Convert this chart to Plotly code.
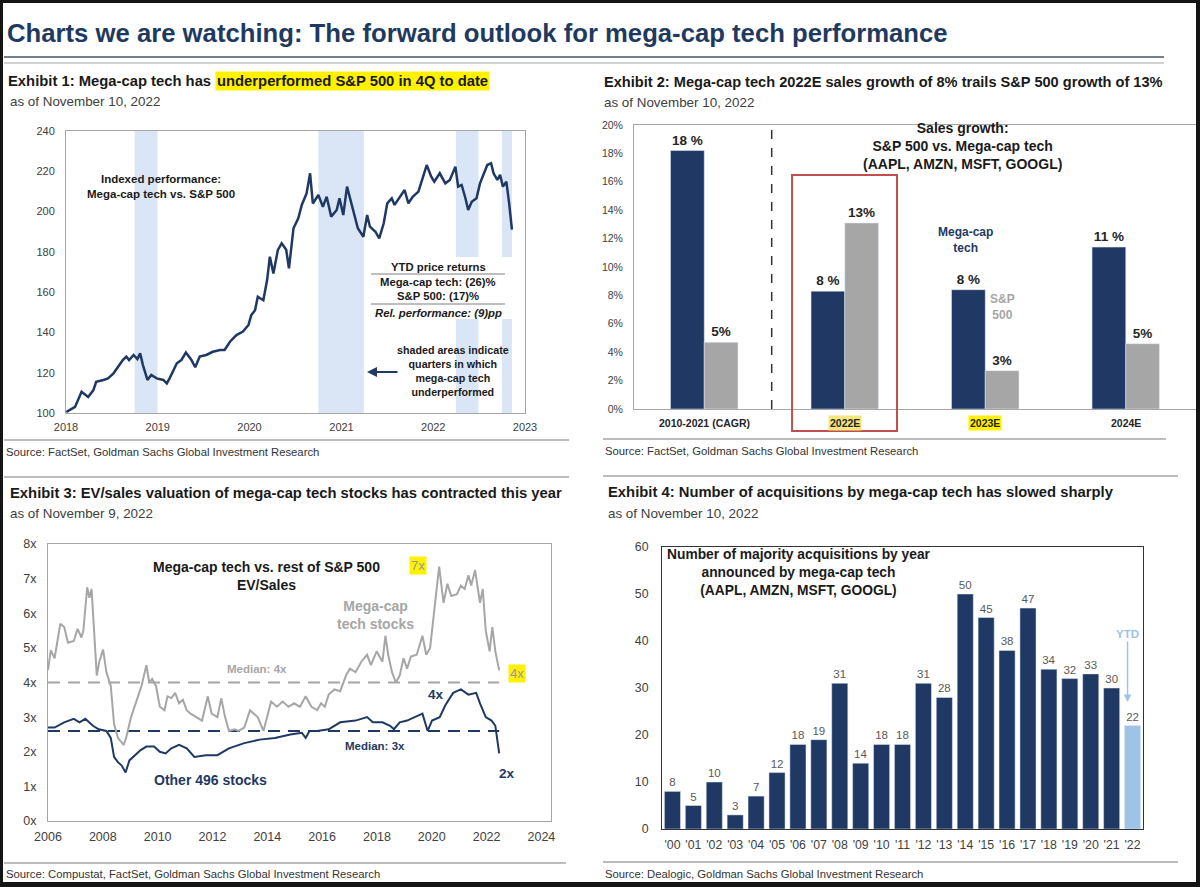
import plotly.graph_objects as go

# Exhibit 1: indexed performance, mega-cap tech vs. S&P 500
perf_dates = [
    '2018-01-02', '2018-02-06', '2018-03-04', '2018-03-30', '2018-04-20', '2018-05-01',
    '2018-05-30', '2018-06-17', '2018-07-09', '2018-07-27', '2018-08-15', '2018-08-29',
    '2018-09-09', '2018-09-27', '2018-10-12', '2018-10-23', '2018-11-03', '2018-11-21',
    '2018-12-06', '2018-12-28', '2019-01-23', '2019-02-06', '2019-02-17', '2019-03-18',
    '2019-04-05', '2019-04-23', '2019-05-15', '2019-05-30', '2019-06-17', '2019-07-13',
    '2019-08-08', '2019-09-06', '2019-09-24', '2019-10-16', '2019-11-10', '2019-12-06',
    '2019-12-28', '2020-01-08', '2020-01-23', '2020-02-03', '2020-02-25', '2020-03-11',
    '2020-03-22', '2020-04-05', '2020-04-23', '2020-05-08', '2020-05-26', '2020-06-06',
    '2020-06-24', '2020-07-13', '2020-07-27', '2020-08-15', '2020-08-29', '2020-09-09',
    '2020-10-01', '2020-10-19', '2020-11-03', '2020-11-21', '2020-12-13', '2020-12-24',
    '2021-01-08', '2021-01-23', '2021-02-10', '2021-02-24', '2021-03-07', '2021-03-29',
    '2021-04-13', '2021-04-24', '2021-05-16', '2021-05-31', '2021-06-18', '2021-07-02',
    '2021-07-20', '2021-07-31', '2021-08-22', '2021-09-09', '2021-09-24', '2021-10-12',
    '2021-11-03', '2021-11-21', '2021-12-06', '2021-12-24', '2022-01-05', '2022-01-27',
    '2022-02-18', '2022-03-08', '2022-03-30', '2022-04-10', '2022-04-24', '2022-05-09',
    '2022-05-20', '2022-06-03', '2022-06-22', '2022-07-06', '2022-07-17', '2022-08-04',
    '2022-08-19', '2022-08-29', '2022-09-13', '2022-09-24', '2022-10-05', '2022-10-19',
    '2022-10-30', '2022-11-04', '2022-11-10',
]
perf_values = [
    100.5, 103.0, 110.6, 108.0, 111.4, 115.5,
    116.4, 117.2, 119.7, 122.7, 126.3, 128.0,
    126.3, 128.8, 126.8, 129.6, 123.8, 116.4,
    118.9, 117.2, 116.4, 114.7, 117.2, 124.7,
    126.3, 130.0, 126.3, 122.7, 128.0, 128.8,
    130.4, 131.3, 131.3, 135.5, 138.7, 140.4,
    143.7, 148.6, 151.0, 157.7, 156.0, 166.0,
    177.6, 169.3, 181.0, 184.2, 181.0, 171.8,
    191.7, 196.7, 203.3, 209.0, 219.0, 204.0,
    208.2, 202.4, 207.4, 197.5, 200.8, 206.6,
    198.3, 212.4, 203.3, 196.7, 191.7, 187.5,
    198.3, 192.5, 190.0, 186.7, 194.2, 204.1,
    206.6, 203.3, 207.4, 210.7, 204.1, 207.4,
    209.9, 217.3, 223.1, 217.3, 214.8, 219.0,
    214.0, 215.7, 222.3, 212.4, 213.2, 206.6,
    200.8, 204.9, 206.6, 214.0, 217.3, 223.1,
    224.0, 219.0, 215.7, 218.2, 212.4, 214.8,
    204.1, 197.5, 191.0,
]
# quarters in which mega-cap tech underperformed
shade_start = ['2018-10-01', '2020-10-01', '2022-04-01', '2022-10-01']
shade_end = ['2018-12-31', '2021-03-31', '2022-06-30', '2022-11-10']

# Exhibit 2: sales growth
sales_categories = ['2010-2021 (CAGR)', '2022E', '2023E', '2024E']
megacap_growth = [18.2, 8.3, 8.4, 11.4]
sp500_growth = [4.7, 13.1, 2.7, 4.6]
megacap_labels = ['18 %', '8 %', '8 %', '11 %']
sp500_labels = ['5%', '13%', '3%', '5%']

# Exhibit 3: EV/Sales
mega_years = [
    2006.00, 2006.10, 2006.24, 2006.45, 2006.59, 2006.73, 2006.94, 2007.08, 2007.22, 2007.29,
    2007.43, 2007.51, 2007.59, 2007.68, 2007.78, 2007.87, 2008.01, 2008.13, 2008.29, 2008.41,
    2008.55, 2008.76, 2008.85, 2009.03, 2009.24, 2009.41, 2009.59, 2009.69, 2009.80, 2009.94,
    2010.08, 2010.25, 2010.36, 2010.50, 2010.64, 2010.78, 2010.92, 2011.06, 2011.20, 2011.41,
    2011.62, 2011.83, 2011.97, 2012.18, 2012.32, 2012.46, 2012.60, 2012.81, 2012.95, 2013.16,
    2013.37, 2013.51, 2013.65, 2013.86, 2014.00, 2014.14, 2014.35, 2014.56, 2014.77, 2014.98,
    2015.19, 2015.40, 2015.61, 2015.82, 2015.96, 2016.10, 2016.24, 2016.45, 2016.66, 2016.87,
    2017.01, 2017.22, 2017.43, 2017.64, 2017.78, 2017.99, 2018.20, 2018.31, 2018.41, 2018.55,
    2018.69, 2018.83, 2018.97, 2019.10, 2019.24, 2019.45, 2019.66, 2019.80, 2019.94, 2020.08,
    2020.27, 2020.43, 2020.57, 2020.71, 2020.92, 2021.06, 2021.20, 2021.34, 2021.44, 2021.58,
    2021.76, 2021.86, 2021.97, 2022.11, 2022.21, 2022.32, 2022.46,
]
mega_ev_sales = [
    4.36, 4.93, 4.70, 5.70, 5.60, 5.15, 5.20, 5.55, 5.30, 5.50,
    6.75, 6.45, 6.70, 5.50, 4.20, 4.60, 4.95, 4.30, 3.90, 2.80,
    2.40, 2.20, 2.40, 3.00, 3.50, 3.90, 4.50, 4.00, 4.10, 3.90,
    3.30, 3.20, 3.60, 3.55, 3.70, 3.40, 3.50, 3.20, 3.10, 3.00,
    2.90, 3.60, 3.10, 3.00, 3.55, 3.00, 2.60, 2.65, 2.60, 2.70,
    3.20, 3.10, 3.00, 2.60, 3.00, 3.45, 3.30, 3.45, 3.30, 3.40,
    3.30, 3.60, 3.30, 3.20, 3.40, 3.30, 3.65, 3.80, 3.75, 4.20,
    4.40, 4.30, 4.60, 4.80, 4.50, 4.90, 4.60, 5.35, 4.80, 4.30,
    4.00, 4.20, 4.70, 4.40, 4.75, 4.80, 5.35, 4.80, 5.00, 6.00,
    7.35, 6.30, 6.85, 6.50, 6.55, 6.80, 6.70, 7.10, 6.80, 7.25,
    6.30, 6.70, 5.50, 4.90, 5.60, 4.90, 4.35,
]
other_years = [
    2006.00, 2006.24, 2006.59, 2006.94, 2007.15, 2007.36, 2007.64, 2007.85, 2008.13, 2008.29,
    2008.41, 2008.55, 2008.69, 2008.83, 2008.97, 2009.17, 2009.38, 2009.59, 2009.87, 2010.08,
    2010.29, 2010.50, 2010.78, 2011.06, 2011.34, 2011.76, 2012.18, 2012.60, 2013.16, 2013.72,
    2014.28, 2014.84, 2015.26, 2015.40, 2015.54, 2015.82, 2016.24, 2016.66, 2017.22, 2017.64,
    2017.85, 2018.20, 2018.48, 2018.62, 2018.83, 2019.10, 2019.38, 2019.66, 2019.85, 2020.01,
    2020.29, 2020.50, 2020.78, 2021.06, 2021.34, 2021.62, 2021.76, 2021.97, 2022.18, 2022.32,
    2022.46,
]
other_ev_sales = [
    2.70, 2.70, 2.85, 2.95, 2.85, 2.95, 2.75, 2.65, 2.60, 2.40,
    1.85, 1.70, 1.60, 1.40, 1.75, 1.90, 2.05, 2.15, 2.15, 2.00,
    1.95, 2.10, 2.20, 2.10, 1.85, 1.90, 1.90, 2.10, 2.25, 2.35,
    2.40, 2.50, 2.55, 2.40, 2.60, 2.60, 2.65, 2.85, 2.90, 3.00,
    2.85, 2.85, 2.75, 2.65, 2.85, 2.90, 3.00, 3.10, 2.60, 2.90,
    3.00, 3.35, 3.70, 3.80, 3.65, 3.70, 3.40, 3.00, 2.90, 2.75,
    1.95,
]
median_mega = 4.0
median_other = 2.6
median_span = [2006.0, 2022.46]

# Exhibit 4: acquisitions by year
acq_years = ["'00", "'01", "'02", "'03", "'04", "'05", "'06", "'07", "'08", "'09", "'10", "'11",
             "'12", "'13", "'14", "'15", "'16", "'17", "'18", "'19", "'20", "'21", "'22"]
acq_counts = [8, 5, 10, 3, 7, 12, 18, 19, 31, 14, 18, 18, 31, 28, 50, 45, 38, 47, 34, 32, 33, 30, 22]

W, H = 1200, 887
NAVY = '#1f3864'
GREY = '#a6a6a6'
FONT = 'Liberation Sans, Arial, sans-serif'


def px(x):
    return x / W


def py(y):
    return 1 - y / H


def note(x, y, text, size, color='#1a1a1a', xanchor='center', bg=None, xref='paper', yref='paper'):
    return dict(x=x, y=y, xref=xref, yref=yref, text=text, showarrow=False,
                xanchor=xanchor, yanchor='middle', align='center',
                font=dict(family=FONT, size=size, color=color),
                bgcolor=bg, borderpad=1)


fig = go.Figure()

# Exhibit 1 line
fig.add_trace(go.Scatter(x=perf_dates, y=perf_values, mode='lines',
                         line=dict(color=NAVY, width=2.5), xaxis='x', yaxis='y'))

# Exhibit 2 bars
fig.add_trace(go.Bar(x=sales_categories, y=megacap_growth, text=megacap_labels,
                     width=0.24, offset=-0.24, marker_color=NAVY,
                     texttemplate='<b>%{text}</b>', textposition='outside', cliponaxis=False,
                     textfont=dict(family=FONT, size=13.5, color='#262626'),
                     xaxis='x2', yaxis='y2'))
fig.add_trace(go.Bar(x=sales_categories, y=sp500_growth, text=sp500_labels,
                     width=0.24, offset=0, marker_color=GREY,
                     texttemplate='<b>%{text}</b>', textposition='outside', cliponaxis=False,
                     textfont=dict(family=FONT, size=13.5, color='#262626'),
                     xaxis='x2', yaxis='y2'))

# Exhibit 3 lines and medians
fig.add_trace(go.Scatter(x=median_span, y=[median_mega] * 2, mode='lines',
                         line=dict(color=GREY, width=2, dash='12px,8px'), xaxis='x3', yaxis='y3'))
fig.add_trace(go.Scatter(x=median_span, y=[median_other] * 2, mode='lines',
                         line=dict(color=NAVY, width=2, dash='12px,8px'), xaxis='x3', yaxis='y3'))
fig.add_trace(go.Scatter(x=mega_years, y=mega_ev_sales, mode='lines',
                         line=dict(color=GREY, width=2), xaxis='x3', yaxis='y3'))
fig.add_trace(go.Scatter(x=other_years, y=other_ev_sales, mode='lines',
                         line=dict(color=NAVY, width=2), xaxis='x3', yaxis='y3'))

# Exhibit 4 bars (2022 is year to date)
acq_colors = [NAVY] * (len(acq_counts) - 1) + ['#9dc3e6']
fig.add_trace(go.Bar(x=acq_years, y=acq_counts, text=acq_counts, width=0.77,
                     marker_color=acq_colors, textposition='outside', cliponaxis=False,
                     textfont=dict(family=FONT, size=11.5, color='#595959'),
                     xaxis='x4', yaxis='y4'))

tick_font = dict(family=FONT, size=11, color='#404040')
shapes = []

# Exhibit 1 shaded quarters and the white returns box
for s, e in zip(shade_start, shade_end):
    shapes.append(dict(type='rect', xref='x', yref='y domain', x0=s, x1=e, y0=0, y1=1,
                       fillcolor='#dae6f6', line_width=0, layer='below'))
shapes.append(dict(type='rect', xref='x domain', yref='y domain',
                   x0=(368 - 66) / 459, x1=(513 - 66) / 459,
                   y0=(413 - 319) / 282, y1=(413 - 257) / 282,
                   fillcolor='white', line_width=0, layer='below'))
for yl in [274, 304]:
    shapes.append(dict(type='line', xref='paper', yref='paper', x0=px(371), x1=px(505),
                       y0=py(yl), y1=py(yl), line=dict(color='#7f7f7f', width=1)))

# Exhibit 2 divider and red box
shapes.append(dict(type='line', xref='x2', yref='y2 domain', x0=0.48, x1=0.48, y0=0, y1=1,
                   line=dict(color='#333333', width=1.5, dash='dash')))
shapes.append(dict(type='rect', xref='x2', yref='y2 domain', x0=0.625, x1=1.372,
                   y0=(409 - 431) / 284, y1=(409 - 175) / 284,
                   line=dict(color='#c0504d', width=2)))

# page rules: title double line and panel separators
shapes.append(dict(type='line', xref='paper', yref='paper', x0=px(4), x1=px(1164),
                   y0=py(57), y1=py(57), line=dict(color='#44546a', width=1.5)))
shapes.append(dict(type='line', xref='paper', yref='paper', x0=px(4), x1=px(1164),
                   y0=py(63), y1=py(63), line=dict(color='#a6a6a6', width=1.2)))
for x0, x1, yl in [(4, 569, 440), (4, 569, 477), (4, 566, 863),
                   (603, 1166, 439), (603, 1178, 476), (603, 1178, 862)]:
    shapes.append(dict(type='line', xref='paper', yref='paper', x0=px(x0), x1=px(x1),
                       y0=py(yl), y1=py(yl), line=dict(color='#a6a6a6', width=1.5)))

# dark frame round the page
for x0, x1, y0, y1 in [(0, 3, 0, 887), (1196, 1200, 0, 887), (0, 1200, 0, 3), (0, 1200, 882, 887)]:
    shapes.append(dict(type='rect', xref='paper', yref='paper', x0=px(x0), x1=px(x1),
                       y0=py(y1), y1=py(y0), fillcolor='#151515', line_width=0, layer='above'))

ann = []
# page title
ann.append(note(px(5), py(33), '<b>Charts we are watching: The forward outlook for mega-cap tech performance</b>',
                25.7, '#1f3a5f', xanchor='left'))

# exhibit titles, subtitles, sources
ann.append(note(px(213), py(81), '<b>Exhibit 1: Mega-cap tech has</b>', 14.8, xanchor='right'))
ann.append(note(px(215), py(81), '<b>underperformed S&P 500 in 4Q to date</b>', 14.8,
                xanchor='left', bg='#fff200'))
ann.append(note(px(8), py(101), 'as of November 10, 2022', 13.4, '#404040', xanchor='left'))
ann.append(note(px(602), py(82), '<b>Exhibit 2: Mega-cap tech 2022E sales growth of 8% trails S&P 500 growth of 13%</b>',
                14.6, xanchor='left'))
ann.append(note(px(602), py(102), 'as of November 10, 2022', 13.4, '#404040', xanchor='left'))
ann.append(note(px(8), py(493), '<b>Exhibit 3: EV/sales valuation of mega-cap tech stocks has contracted this year</b>',
                14.8, xanchor='left'))
ann.append(note(px(8), py(513), 'as of November 9, 2022', 13.4, '#404040', xanchor='left'))
ann.append(note(px(606), py(492), '<b>Exhibit 4: Number of acquisitions by mega-cap tech has slowed sharply</b>',
                14.8, xanchor='left'))
ann.append(note(px(606), py(513), 'as of November 10, 2022', 13.4, '#404040', xanchor='left'))
ann.append(note(px(4), py(452), 'Source: FactSet, Goldman Sachs Global Investment Research', 11.3, '#333333', xanchor='left'))
ann.append(note(px(603), py(451), 'Source: FactSet, Goldman Sachs Global Investment Research', 11.3, '#333333', xanchor='left'))
ann.append(note(px(4), py(874), 'Source: Compustat, FactSet, Goldman Sachs Global Investment Research', 11.3, '#333333', xanchor='left'))
ann.append(note(px(603), py(874), 'Source: Dealogic, Goldman Sachs Global Investment Research', 11.3, '#333333', xanchor='left'))

# Exhibit 1 notes
ann.append(note(px(161), py(187), '<b>Indexed performance:<br>Mega-cap tech vs. S&P 500</b>', 11.5))
ann.append(note(px(438), py(267), '<b>YTD price returns</b>', 11.3))
ann.append(note(px(438), py(282), '<b>Mega-cap tech: (26)%</b>', 11.3))
ann.append(note(px(438), py(296), '<b>S&P 500: (17)%</b>', 11.3))
ann.append(note(px(438), py(313), '<b><i>Rel. performance: (9)pp</i></b>', 11.3))
ann.append(note(px(453), py(371), '<b>shaded areas indicate<br>quarters in which<br>mega-cap tech<br>underperformed</b>', 10.7))
ann.append(dict(x=px(367), y=py(372), xref='paper', yref='paper', text='', showarrow=True,
                ax=32, ay=0, arrowhead=2, arrowsize=1, arrowwidth=2, arrowcolor=NAVY))

# Exhibit 2 notes and category labels
ann.append(note(px(962), py(146), '<b>Sales growth:<br>S&P 500 vs. Mega-cap tech<br>(AAPL, AMZN, MSFT, GOOGL)</b>', 14))
ann.append(note(px(965), py(240), '<b>Mega-cap<br>tech</b>', 12, NAVY))
ann.append(note(px(1002), py(307), '<b>S&P<br>500</b>', 12, GREY))
cat_bg = [None, '#f2e67c', '#fff200', None]
for cat, bg in zip(sales_categories, cat_bg):
    ann.append(note(cat, py(423), '<b>' + cat + '</b>', 10.5, '#262626', bg=bg, xref='x2'))

# Exhibit 3 notes
ann.append(note(px(266), py(576), '<b>Mega-cap tech vs. rest of S&P 500<br>EV/Sales</b>', 14))
ann.append(note(px(418), py(565), '7x', 13, '#999999', bg='#fff200'))
ann.append(note(px(375), py(615), '<b>Mega-cap<br>tech stocks</b>', 14, GREY))
ann.append(note(px(257), py(669), '<b>Median: 4x</b>', 11.5, GREY))
ann.append(note(px(517), py(673), '4x', 13, '#999999', bg='#fff200'))
ann.append(note(px(436), py(694), '<b>4x</b>', 13.5, NAVY))
ann.append(note(px(375), py(746), '<b>Median: 3x</b>', 11.5, NAVY))
ann.append(note(px(507), py(773), '<b>2x</b>', 13.5, NAVY))
ann.append(note(px(210), py(780), '<b>Other 496 stocks</b>', 14, NAVY))

# Exhibit 4 notes
ann.append(note(px(799), py(572), '<b>Number of majority acquisitions by year<br>announced by mega-cap tech<br>(AAPL, AMZN, MSFT, GOOGL)</b>', 13.8))
ann.append(dict(x=acq_years[-1], y=27, xref='x4', yref='y4', text='<b>YTD</b>', showarrow=True,
                ax=0, ay=-68, arrowhead=2, arrowsize=1, arrowwidth=1.5, arrowcolor='#9dc3e6',
                xshift=-5, font=dict(family=FONT, size=11.5, color='#9dc3e6')))

fig.update_layout(
    width=W,
    height=H,
    autosize=False,
    margin=dict(l=0, r=0, t=0, b=0),
    paper_bgcolor='white',
    plot_bgcolor='white',
    showlegend=False,
    font=dict(family=FONT),
    xaxis=dict(domain=[px(66), px(525)], anchor='y', type='date',
               range=['2018-01-01', '2023-01-01'], dtick='M12', tick0='2018-01-01',
               tickformat='%Y', showgrid=False, zeroline=False, showline=True, mirror=True,
               linecolor='#a6a6a6', tickfont=tick_font, ticklabelstandoff=4),
    yaxis=dict(domain=[py(413), py(131)], anchor='x', range=[100, 240], dtick=20,
               showgrid=False, zeroline=False, showline=True, mirror=True,
               linecolor='#a6a6a6', tickfont=tick_font, ticklabelstandoff=8),
    xaxis2=dict(domain=[px(634), px(1196)], anchor='y2', type='category', range=[-0.5, 3.5],
                showticklabels=False, showgrid=False, zeroline=False, showline=True,
                mirror=True, linecolor='#a6a6a6'),
    yaxis2=dict(domain=[py(409), py(125)], anchor='x2', range=[0, 20], dtick=2, ticksuffix='%',
                showgrid=False, zeroline=False, showline=True, linecolor='#a6a6a6',
                tickfont=dict(family=FONT, size=10.5, color='#404040'), ticklabelstandoff=8),
    xaxis3=dict(domain=[px(48), px(551)], anchor='y3', range=[2006, 2024.35], dtick=2, tick0=2006,
                showgrid=False, zeroline=False, showline=True, mirror=True, linecolor='#a6a6a6',
                tickfont=dict(family=FONT, size=12.5, color='#404040'), ticklabelstandoff=4),
    yaxis3=dict(domain=[py(821), py(544)], anchor='x3', range=[0, 8], dtick=1, ticksuffix='x',
                showgrid=False, zeroline=False, showline=True, mirror=True, linecolor='#a6a6a6',
                tickfont=dict(family=FONT, size=12.5, color='#404040'), ticklabelstandoff=8),
    xaxis4=dict(domain=[px(662), px(1143)], anchor='y4', type='category', range=[-0.5, 22.5],
                showgrid=False, zeroline=False, showline=True, mirror=True, linecolor='#333333',
                tickfont=dict(family=FONT, size=12.3, color='#404040'), ticklabelstandoff=4),
    yaxis4=dict(domain=[py(829), py(547)], anchor='x4', range=[0, 60], dtick=10,
                showgrid=False, zeroline=False, showline=True, mirror=True, linecolor='#333333',
                tickfont=dict(family=FONT, size=12.3, color='#404040'), ticklabelstandoff=10),
    shapes=shapes,
    annotations=ann,
)
# the default template pushes the margins out; keep the page geometry fixed
fig.update_xaxes(automargin=False)
fig.update_yaxes(automargin=False)

# no page margin or scrollbars, so the figure fills the window exactly
page_fix = ("document.documentElement.style.overflow='hidden';"
            "document.body.style.margin='0px';"
            "document.body.style.overflow='hidden';")
fig.write_html('out.html', config={'displayModeBar': False}, post_script=page_fix)
